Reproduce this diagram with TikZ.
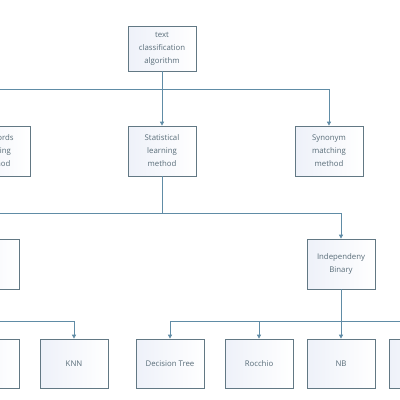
\documentclass[tikz,border=0pt]{standalone}
\usepackage{fontspec}
\setmainfont{Open Sans}
\usetikzlibrary{arrows.meta}
\definecolor{linec}{RGB}{96,140,166}
\definecolor{boxc}{RGB}{98,120,132}
\definecolor{textc}{RGB}{88,108,120}
\definecolor{fillc}{RGB}{238,241,249}
\begin{document}
\begin{tikzpicture}[x=1pt,y=-1pt,
  box/.style={draw=boxc, line width=0.7pt, left color=fillc, right color=white,
    minimum width=68pt, minimum height=50pt, inner sep=1pt, align=center,
    text=textc, font=\fontsize{7.8}{13}\selectfont},
  conn/.style={draw=linec, line width=0.7pt},
  arr/.style={conn, -{Triangle[length=4pt,width=4pt]}}]
\useasboundingbox (0,0) rectangle (400,400);
\clip (0,0) rectangle (400,400);
\fill[white] (0,0) rectangle (400,400);
% level 1
\node[box, minimum height=45pt] (root) at (162,48.5) {text\\classification\\algorithm};
% level 2
\node[box] (kw) at (-4,151) {Keywords\\learning\\method};
\node[box] (stat) at (162,151) {Statistical\\learning\\method};
\node[box] (syn) at (329,151) {Synonym\\matching\\method};
% level 3
\node[box] (l3a) at (-15,264) {};
\node[box] (ind) at (341,264) {Independeny\\Binary};
% level 4
\node[box, minimum height=49pt] (l4a) at (-15,363.5) {};
\node[box, minimum height=49pt] (knn) at (74,363.5) {KNN};
\node[box, minimum height=49pt] (dt) at (170,363.5) {Decision Tree};
\node[box, minimum height=49pt] (roc) at (259,363.5) {Rocchio};
\node[box, minimum height=49pt] (nb) at (341,363.5) {NB};
\node[box, minimum height=49pt] (r4) at (423,363.5) {};
% hub coordinates
\coordinate (h1) at (162,89);
\coordinate (h2) at (162,213);
\coordinate (h3) at (341,321);
\coordinate (h4) at (-15,321);
% connectors
\draw[arr] (root.south) -- (stat.north);
\draw[arr] (h1) -| (syn.north);
\draw[arr] (h1) -| (kw.north);
\draw[conn] (stat.south) -- (h2);
\draw[arr] (h2) -| (ind.north);
\draw[arr] (h2) -| (l3a.north);
\draw[arr] (ind.south) -- (nb.north);
\draw[arr] (h3) -| (dt.north);
\draw[arr] (h3) -| (roc.north);
\draw[arr] (h3) -| (r4.north);
\draw[conn] (l3a.south) -- (h4);
\draw[arr] (h4) -| (knn.north);
\draw[arr] (h4) -- (l4a.north);
\end{tikzpicture}
\end{document}
